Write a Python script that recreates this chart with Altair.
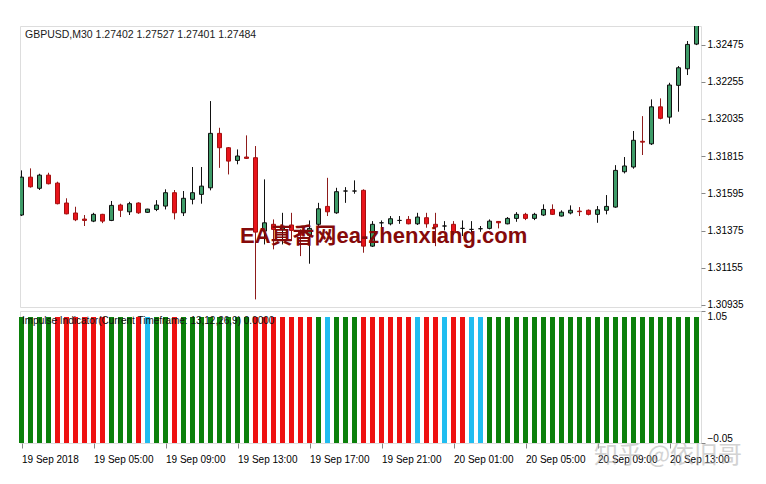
import json
import altair as alt
import pandas as pd

# ---------------- data ----------------
symbol_title = "GBPUSD,M30  1.27402 1.27527 1.27401 1.27484"
indicator_title = "Impulse Indicator(Current Timeframe: 13,12,26,9) 0.0000"
watermark_main = "EA真香网ea-zhenxiang.com"
watermark_corner = "知乎 @依旧哥"

opens = [1.31467, 1.31691, 1.31625, 1.31703, 1.31656, 1.31538, 1.31479, 1.31443, 1.31431, 1.31471,
         1.31435, 1.31526, 1.31486, 1.31538, 1.31483, 1.31500, 1.31520, 1.31599, 1.31480, 1.31560,
         1.31589, 1.31628, 1.31950, 1.31865, 1.31790, 1.31810, 1.31806, 1.31372, 1.31412, 1.31384,
         1.31408, 1.31372, 1.31348, 1.31412, 1.31518, 1.31480, 1.31609, 1.31609, 1.31613, 1.31283,
         1.31421, 1.31415, 1.31435, 1.31441, 1.31415, 1.31451, 1.31412, 1.31402, 1.31412, 1.31388,
         1.31382, 1.31386, 1.31388, 1.31429, 1.31415, 1.31447, 1.31471, 1.31447, 1.31467, 1.31500,
         1.31461, 1.31479, 1.31490, 1.31495, 1.31471, 1.31495, 1.31514, 1.31723, 1.31751, 1.31903,
         1.31888, 1.32107, 1.32046, 1.32234, 1.32332, 1.32478]
highs = [1.31731, 1.31743, 1.31711, 1.31717, 1.31664, 1.31566, 1.31516, 1.31467, 1.31480, 1.31474,
         1.31550, 1.31534, 1.31545, 1.31542, 1.31504, 1.31555, 1.31619, 1.31615, 1.31609, 1.31751,
         1.31751, 1.32141, 1.31983, 1.31869, 1.31855, 1.31938, 1.31875, 1.31678, 1.31441, 1.31480,
         1.31480, 1.31382, 1.31435, 1.31539, 1.31687, 1.31628, 1.31632, 1.31672, 1.31619, 1.31431,
         1.31435, 1.31461, 1.31461, 1.31461, 1.31480, 1.31480, 1.31480, 1.31431, 1.31431, 1.31435,
         1.31431, 1.31402, 1.31441, 1.31431, 1.31455, 1.31484, 1.31480, 1.31480, 1.31530, 1.31530,
         1.31495, 1.31524, 1.31514, 1.31500, 1.31520, 1.31585, 1.31762, 1.31810, 1.31964, 1.32052,
         1.32151, 1.32157, 1.32249, 1.32348, 1.32496, 1.32612]
lows = [1.31461, 1.31629, 1.31615, 1.31648, 1.31530, 1.31471, 1.31431, 1.31402, 1.31425, 1.31419,
        1.31431, 1.31455, 1.31467, 1.31474, 1.31479, 1.31490, 1.31500, 1.31441, 1.31461, 1.31530,
        1.31534, 1.31613, 1.31746, 1.31707, 1.31767, 1.31799, 1.30968, 1.31293, 1.31264, 1.31293,
        1.31313, 1.31224, 1.31179, 1.31402, 1.31461, 1.31474, 1.31539, 1.31593, 1.31244, 1.31278,
        1.31396, 1.31406, 1.31415, 1.31412, 1.31408, 1.31392, 1.31283, 1.31376, 1.31348, 1.31343,
        1.31362, 1.31368, 1.31382, 1.31388, 1.31412, 1.31427, 1.31437, 1.31437, 1.31461, 1.31467,
        1.31458, 1.31471, 1.31461, 1.31465, 1.31421, 1.31471, 1.31510, 1.31713, 1.31741, 1.31822,
        1.31881, 1.32033, 1.32007, 1.32078, 1.32295, 1.32472]
closes = [1.31691, 1.31634, 1.31703, 1.31652, 1.31534, 1.31474, 1.31439, 1.31435, 1.31471, 1.31431,
          1.31524, 1.31495, 1.31534, 1.31480, 1.31502, 1.31526, 1.31599, 1.31480, 1.31566, 1.31599,
          1.31638, 1.31950, 1.31865, 1.31786, 1.31816, 1.31802, 1.31366, 1.31421, 1.31382, 1.31402,
          1.31376, 1.31348, 1.31388, 1.31504, 1.31486, 1.31605, 1.31609, 1.31609, 1.31283, 1.31412,
          1.31421, 1.31445, 1.31435, 1.31415, 1.31455, 1.31415, 1.31396, 1.31402, 1.31368, 1.31388,
          1.31382, 1.31386, 1.31431, 1.31421, 1.31447, 1.31471, 1.31447, 1.31471, 1.31500, 1.31471,
          1.31484, 1.31495, 1.31487, 1.31471, 1.31498, 1.31518, 1.31731, 1.31757, 1.31909, 1.31898,
          1.32107, 1.32039, 1.32236, 1.32338, 1.32476, 1.32598]

# Impulse system state per bar: G = bullish, R = bearish, B = neutral
impulse_state = list("GGGGRRRRRRGGGRBGGRGGGGGGGGRRRRRRRGBGGGRRRRRRBRRBRRBBGGGGGGGGGGGGGGGGGGGGGGGG")
impulse_value = 1.0

price_ticks = [1.30935, 1.31155, 1.31375, 1.31595, 1.31815, 1.32035, 1.32255, 1.32475]
time_tick_bars = [0, 8, 16, 24, 32, 40, 48, 56, 64, 72]
time_tick_labels = ["19 Sep 2018", "19 Sep 05:00", "19 Sep 09:00", "19 Sep 13:00", "19 Sep 17:00",
                    "19 Sep 21:00", "20 Sep 01:00", "20 Sep 05:00", "20 Sep 09:00", "20 Sep 13:00"]
ind_ticks = [-0.05, 1.05]

# ---------------- frames ----------------
n = len(opens)
df = pd.DataFrame({"bar": list(range(n)), "open": opens, "high": highs, "low": lows, "close": closes})
df["dir"] = ["up" if c >= o else "down" for o, c in zip(opens, closes)]

ind = pd.DataFrame({"bar": list(range(n)), "state": impulse_state})
ind["value"] = impulse_value

FONT = "Liberation Sans"
W = 681
xscale = alt.Scale(domain=[-0.1667, 75.5], nice=False, zero=False, padding=0)
yscale = alt.Scale(domain=[1.30923, 1.32585], nice=False, zero=False, padding=0)

price_axis = alt.Axis(orient="right", values=price_ticks, format=".5f", tickSize=4,
                      labelPadding=2, domain=False, grid=False, title=None)

base = alt.Chart(df)
wick = base.mark_rule(strokeWidth=1, clip=True).encode(
    x=alt.X("bar:Q", scale=xscale, axis=None),
    y=alt.Y("low:Q", scale=yscale, axis=price_axis),
    y2="high:Q",
    color=alt.Color("dir:N", scale=alt.Scale(domain=["up", "down"], range=["#111111", "#8E1B1B"]), legend=None),
)
body = base.mark_bar(width=4, strokeWidth=1, clip=True).encode(
    x=alt.X("bar:Q", scale=xscale, axis=None),
    y=alt.Y("open:Q", scale=yscale, axis=price_axis),
    y2="close:Q",
    fill=alt.Fill("dir:N", scale=alt.Scale(domain=["up", "down"], range=["#3E9B68", "#E8141B"]), legend=None),
    stroke=alt.Stroke("dir:N", scale=alt.Scale(domain=["up", "down"], range=["#111111", "#A51010"]), legend=None),
)
title_txt = alt.Chart(pd.DataFrame({"t": [symbol_title]})).mark_text(
    align="left", baseline="middle", font=FONT, fontSize=10.5, color="#1a1a1a"
).encode(text="t:N", x=alt.value(5), y=alt.value(9))
wm1 = alt.Chart(pd.DataFrame({"t": [watermark_main]})).mark_text(
    align="left", baseline="alphabetic", font="Liberation Sans, Noto Sans CJK SC", fontSize=22,
    fontWeight="bold", color="#850A0A"
).encode(text="t:N", x=alt.value(220), y=alt.value(217))

price = alt.layer(wick, body, title_txt, wm1).properties(width=W, height=281)

label_expr = json.dumps(time_tick_labels) + "[round(datum.value / 8)]"
ind_bars = alt.Chart(ind).mark_bar(width=5).encode(
    x=alt.X("bar:Q", scale=xscale,
            axis=alt.Axis(values=time_tick_bars, labelExpr=label_expr, tickSize=5, labelAlign="left",
                          labelPadding=6, labelFlush=False, labelOverlap=False, domain=False,
                          grid=False, title=None)),
    y=alt.Y("value:Q", scale=alt.Scale(domain=[-0.05, 1.05], nice=False, zero=False, padding=0),
            axis=alt.Axis(orient="right", values=ind_ticks, format=".2f", tickSize=4, labelPadding=2,
                          domain=False, grid=False, title=None,
                          labelBaseline={"condition": {"test": "datum.value > 0.5", "value": "top"},
                                         "value": "bottom"})),
    y2=alt.datum(-0.05),
    color=alt.Color("state:N", scale=alt.Scale(domain=["G", "R", "B"],
                                               range=["#0B800B", "#EE1111", "#20BDF0"]), legend=None),
)
ind_txt = alt.Chart(pd.DataFrame({"t": [indicator_title]})).mark_text(
    align="left", baseline="middle", font=FONT, fontSize=10, color="#111111"
).encode(text="t:N", x=alt.value(2), y=alt.value(10))
wm2 = alt.Chart(pd.DataFrame({"t": [watermark_corner]})).mark_text(
    align="left", baseline="middle", font="Noto Sans CJK SC", fontSize=24, color="#a8a8a8", opacity=0.5
).encode(text="t:N", x=alt.value(574), y=alt.value(145))

indicator = alt.layer(ind_bars, ind_txt, wm2).properties(width=W, height=132)

chart = alt.vconcat(price, indicator, spacing=4).resolve_scale(
    color="independent", fill="independent", stroke="independent"
).properties(
    bounds="flush",
    padding={"left": 10, "top": 17, "right": 5, "bottom": 5},
).configure_view(stroke="#3a3a3a", strokeWidth=1).configure_axis(
    labelFont=FONT, labelFontSize=10, labelColor="#1a1a1a", tickColor="#333333", tickWidth=1
).configure(background="white")

chart.save("out.html", embed_options={"renderer": "svg", "actions": False})
